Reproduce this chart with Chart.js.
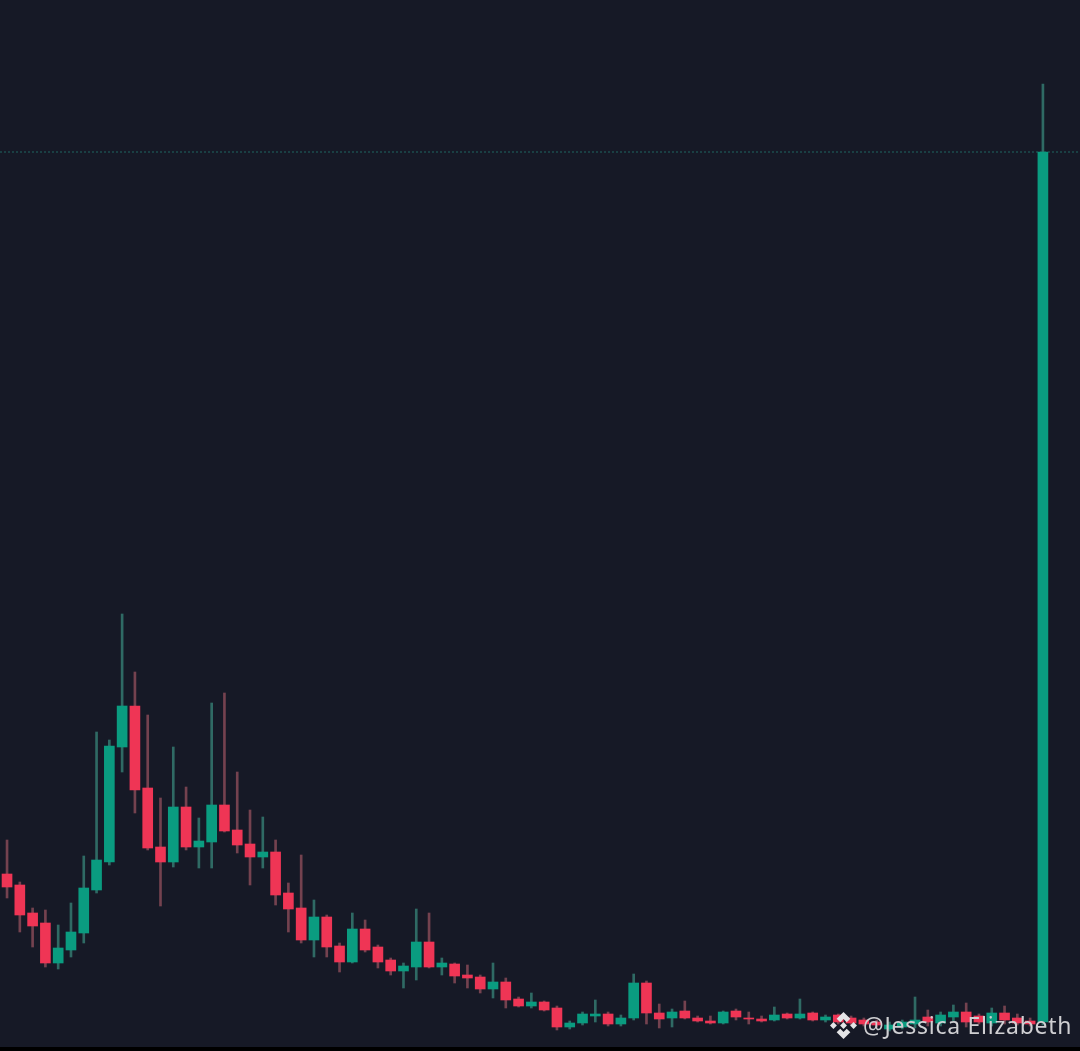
<!DOCTYPE html>
<html>
<head>
<meta charset="utf-8">
<title>Candles</title>
<script src="https://cdn.jsdelivr.net/npm/chart.js@4"></script>
<style>
  html, body { margin: 0; padding: 0; background: #000; }
  #wrap { position: relative; width: 1080px; height: 1051px; overflow: hidden; background: #000; }
  #pane { width: 1080px; height: 1047px; background: #161926; }
  #chart { display: block; filter: blur(0.7px); }
  #mark { position: absolute; left: 863px; top: 1009px; color: #cfcfd2; font: 23px "Noto Sans", sans-serif; letter-spacing: 0.75px; line-height: 32px; white-space: nowrap; }
  #logo { position: absolute; left: 830px; top: 1012px; width: 27px; height: 27px; }
</style>
</head>
<body>
<div id="wrap">
  <div id="pane"><canvas id="chart" width="1080" height="1047"></canvas></div>
  <svg id="logo" viewBox="0 0 126 126">
    <g fill="#e4e4e6">
      <path d="M63 0 L95 32 L78 48 L63 33 L48 48 L31 32 Z"/>
      <path d="M63 126 L31 94 L48 78 L63 93 L78 78 L95 94 Z"/>
      <path d="M0 63 L16 47 L32 63 L16 79 Z"/>
      <path d="M126 63 L110 47 L94 63 L110 79 Z"/>
      <path d="M63 47 L79 63 L63 79 L47 63 Z"/>
    </g>
  </svg>
  <div id="mark">@Jessica Elizabeth</div>
</div>
<script>
// heights, no price axis is shown so units are arbitrary
const opens = [173,162,134,124,84,97,114,157,185,300,341,259,200,185,240,200,205,242,217,203,190,195,154,139,107,130,101,85,118,100,87,76,80,105,80,83,72,70,58,65,48,41,45,39,20,24,31,33,23,29,64,34,29,36,29,26,24,36,29,28,27,33,29,34,27,32,29,27,25,18,20,23,30,24,30,35,31,24,34,29,26,25];
const closes = [160,132,121,84,99,115,159,187,301,341,257,199,185,240,200,206,242,216,202,190,195,152,138,107,130,100,85,118,97,85,76,81,105,80,84,71,69,58,65,47,41,45,37,20,24,33,33,23,29,64,34,28,35,29,26,24,35,30,28,26,32,29,33,27,30,25,24,23,22,22,25,27,25,32,35,25,25,34,27,24,23,895];
const highs = [207,165,139,137,122,144,191,315,307,433,375,332,249,300,260,229,344,354,275,237,230,207,164,192,147,132,104,134,127,102,89,84,138,134,89,84,82,72,84,69,50,54,46,41,26,35,47,35,32,73,66,43,38,46,31,31,36,38,35,31,40,34,48,35,32,33,31,29,27,25,27,50,37,35,42,44,33,39,41,33,29,963];
const lows = [149,115,100,80,78,90,104,154,182,275,234,197,141,180,197,179,179,215,194,162,179,142,115,104,90,90,75,84,95,79,72,59,67,79,72,64,59,54,49,39,40,39,36,17,18,22,25,21,21,27,23,19,20,28,25,23,23,27,23,25,26,28,28,26,25,23,22,21,20,16,18,19,21,21,26,20,23,21,23,22,21,22];
const level = 895;

const upColor = '#0a9c80';
const downColor = '#ef3555';
const upWick = '#2f6a64';
const downWick = '#74424f';

const xMin = -0.55;
const xMax = 83.9;
const yMax = 1047;

const index = opens.map((o, i) => i);
const isUp = index.map(i => closes[i] >= opens[i]);

new Chart(document.getElementById('chart'), {
  data: {
    datasets: [
      {
        type: 'line',
        data: [{ x: xMin, y: level }, { x: xMax, y: level }],
        borderColor: '#1f6660',
        borderWidth: 1,
        borderDash: [2, 2],
        pointRadius: 0,
        order: 3
      },
      {
        type: 'bar',
        data: index.map(i => ({ x: i, y: [lows[i], highs[i]] })),
        backgroundColor: index.map(i => isUp[i] ? upWick : downWick),
        barThickness: 2,
        grouped: false,
        order: 2
      },
      {
        type: 'bar',
        data: index.map(i => ({ x: i, y: [opens[i], closes[i]] })),
        backgroundColor: index.map(i => isUp[i] ? upColor : downColor),
        barThickness: 10,
        grouped: false,
        order: 1
      }
    ]
  },
  options: {
    responsive: false,
    animation: false,
    layout: { padding: 0 },
    plugins: {
      legend: { display: false },
      tooltip: { enabled: false }
    },
    scales: {
      x: { type: 'linear', min: xMin, max: xMax, offset: false, display: false },
      y: { min: 0, max: yMax, display: false }
    }
  }
});
</script>
</body>
</html>
